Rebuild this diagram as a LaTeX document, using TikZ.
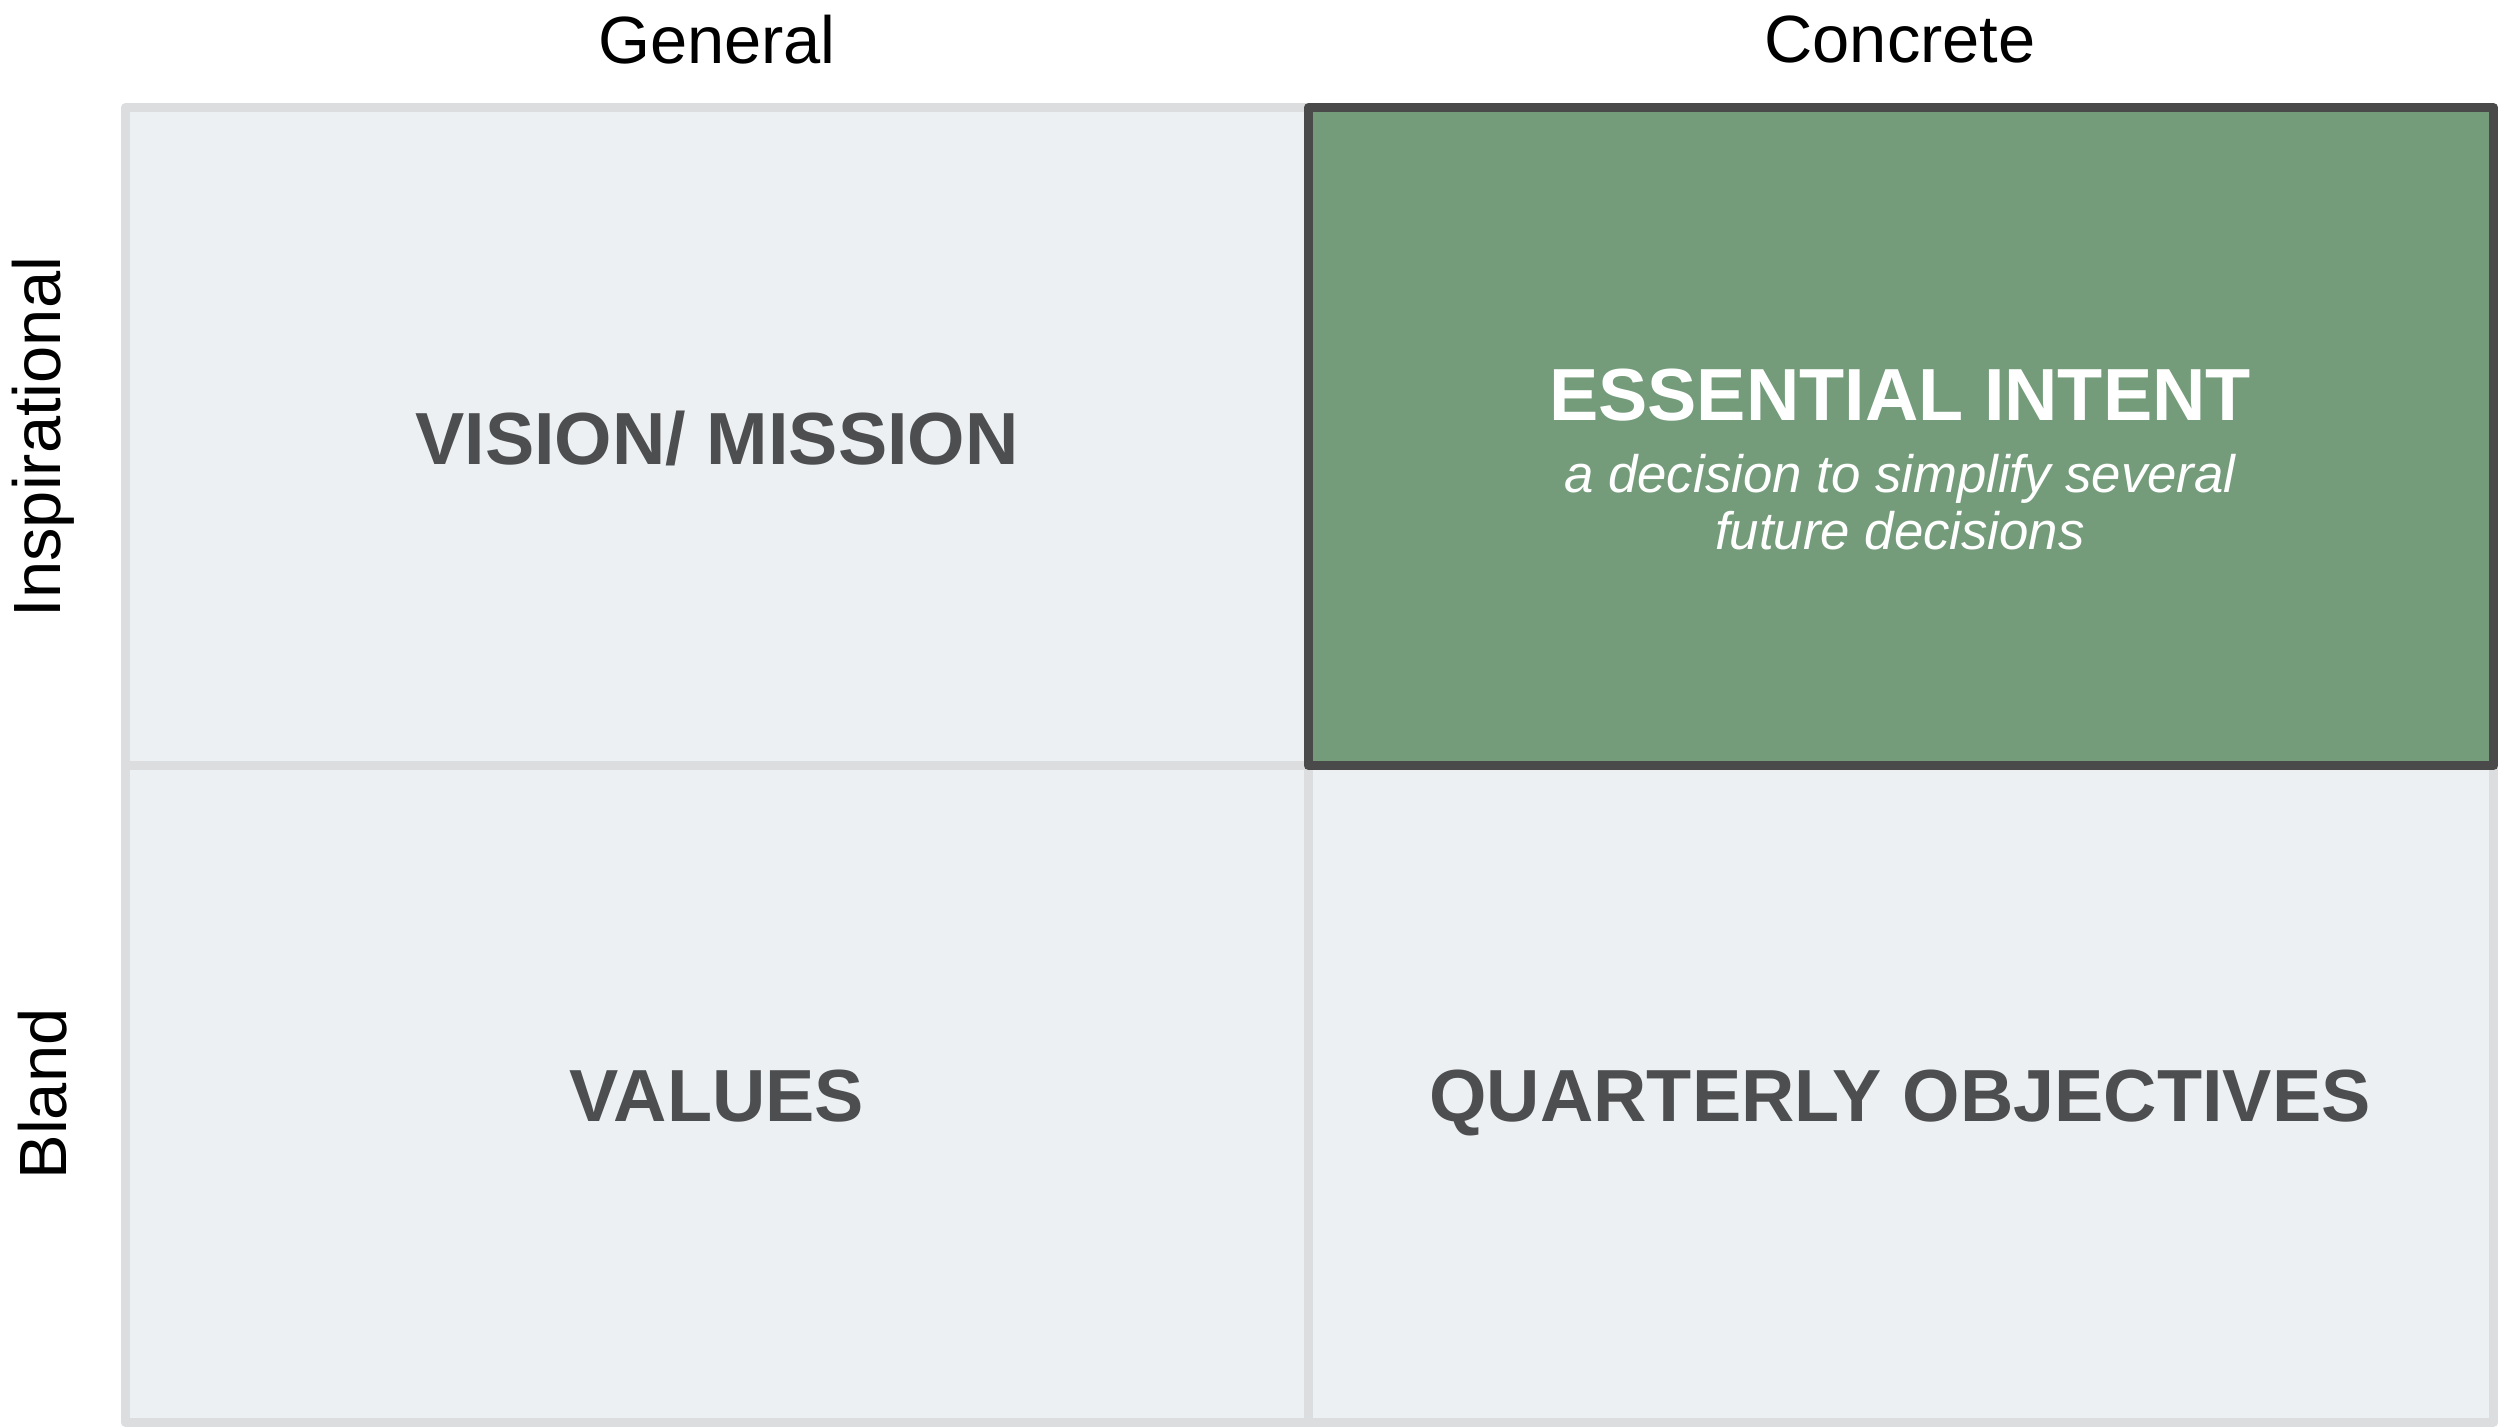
\documentclass[tikz,border=0pt]{standalone}
\usepackage{fontspec}
\setmainfont{Liberation Sans}
\definecolor{cellfill}{HTML}{EDF0F2}
\definecolor{cellline}{HTML}{DCDDDF}
\definecolor{greenfill}{HTML}{749C7B}
\definecolor{darkline}{HTML}{4A4A4A}
\definecolor{labeltext}{HTML}{4D4E50}
\tikzset{
  cell/.style={draw=cellline, fill=cellfill, line width=0.09cm, inner sep=0pt, line join=round},
  hot/.style={draw=darkline, fill=greenfill, line width=0.09cm, inner sep=0pt, line join=round},
  biglabel/.style={font=\fontsize{21}{25}\selectfont\bfseries, text=labeltext, inner sep=0pt, anchor=base},
  axislabel/.style={font=\fontsize{19}{23}\selectfont, text=black, inner sep=0pt},
}
\begin{document}
\begin{tikzpicture}[x=0.01cm,y=-0.01cm]
\useasboundingbox (0,0) rectangle (2500,1428);
\node[cell, minimum width=11.83cm, minimum height=6.575cm] (tl) at (717,436.75) {};
\node[cell, minimum width=11.83cm, minimum height=6.565cm] (bl) at (717,1093.75) {};
\node[cell, minimum width=11.85cm, minimum height=6.565cm] (br) at (1901,1093.75) {};
\node[hot, minimum width=11.85cm, minimum height=6.575cm] (tr) at (1901,436.75) {};
\node[biglabel] (vision) at (717,465) {VISION/ MISSION};
\node[biglabel] (values) at (717,1121) {VALUES};
\node[biglabel] (quarterly) at (1900,1121) {QUARTERLY OBJECTIVES};
\node[biglabel, text=white] (essential) at (1900,421) {ESSENTIAL INTENT};
\node[font=\fontsize{15}{16.2}\selectfont\itshape, text=white, align=center, inner sep=0pt] (sub) at (1900,502) {a decision to simplify several\\future decisions};
\node[axislabel] (general) at (717,40) {General};
\node[axislabel] (concrete) at (1900,40) {Concrete};
\node[axislabel, rotate=90] (insp) at (43,437) {Inspirational};
\node[axislabel, rotate=90] (bland) at (43,1094) {Bland};
\end{tikzpicture}
\end{document}
